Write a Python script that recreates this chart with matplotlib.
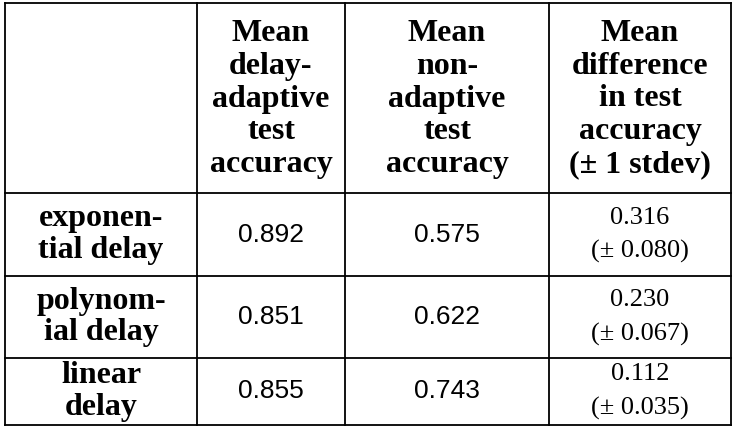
import matplotlib.pyplot as plt

header = ["", "Mean\ndelay-\nadaptive\ntest\naccuracy", "Mean\nnon-\nadaptive\ntest\naccuracy",
          "Mean\ndifference\nin test\naccuracy\n(± 1 stdev)"]
row_labels = ["exponen-\ntial delay", "polynom-\nial delay", "linear\ndelay"]
adaptive = ["0.892", "0.851", "0.855"]
non_adaptive = ["0.575", "0.622", "0.743"]
diff_mean = ["0.316", "0.230", "0.112"]
diff_std = ["0.080", "0.067", "0.035"]

col_x = [5, 197, 345, 549, 731]
row_y = [3, 193, 276, 358, 425]

fig = plt.figure(figsize=(7.38, 4.29), dpi=100)
ax = fig.add_axes([0, 0, 1, 1])
ax.set_xlim(0, 738)
ax.set_ylim(429, 0)
ax.axis("off")

for x in col_x:
    ax.plot([x, x], [row_y[0], row_y[-1]], color="black", lw=1.3)
for y in row_y:
    ax.plot([col_x[0], col_x[-1]], [y, y], color="black", lw=1.3)

serif = "Liberation Serif"
sans = "Liberation Sans"

for j in range(1, 4):
    cx = (col_x[j] + col_x[j + 1]) / 2
    ax.text(cx, (row_y[0] + row_y[1]) / 2 + 1, header[j], ha="center", va="center",
            fontsize=23, fontweight="bold", family=serif, linespacing=1.17)

for i in range(3):
    cy = (row_y[i + 1] + row_y[i + 2]) / 2
    ax.text((col_x[0] + col_x[1]) / 2, cy, row_labels[i], ha="center", va="center",
            fontsize=23, fontweight="bold", family=serif, linespacing=1.12)
    ax.text((col_x[1] + col_x[2]) / 2, cy, adaptive[i], ha="center", va="center",
            fontsize=19, family=sans)
    ax.text((col_x[2] + col_x[3]) / 2, cy, non_adaptive[i], ha="center", va="center",
            fontsize=19, family=sans)
    cx = (col_x[3] + col_x[4]) / 2
    ax.text(cx, cy - 17, diff_mean[i], ha="center", va="center", fontsize=19, family=serif)
    ax.text(cx, cy + 17, "(± " + diff_std[i] + ")", ha="center", va="center",
            fontsize=19, family=serif)

fig.savefig("out.png", dpi=100)
